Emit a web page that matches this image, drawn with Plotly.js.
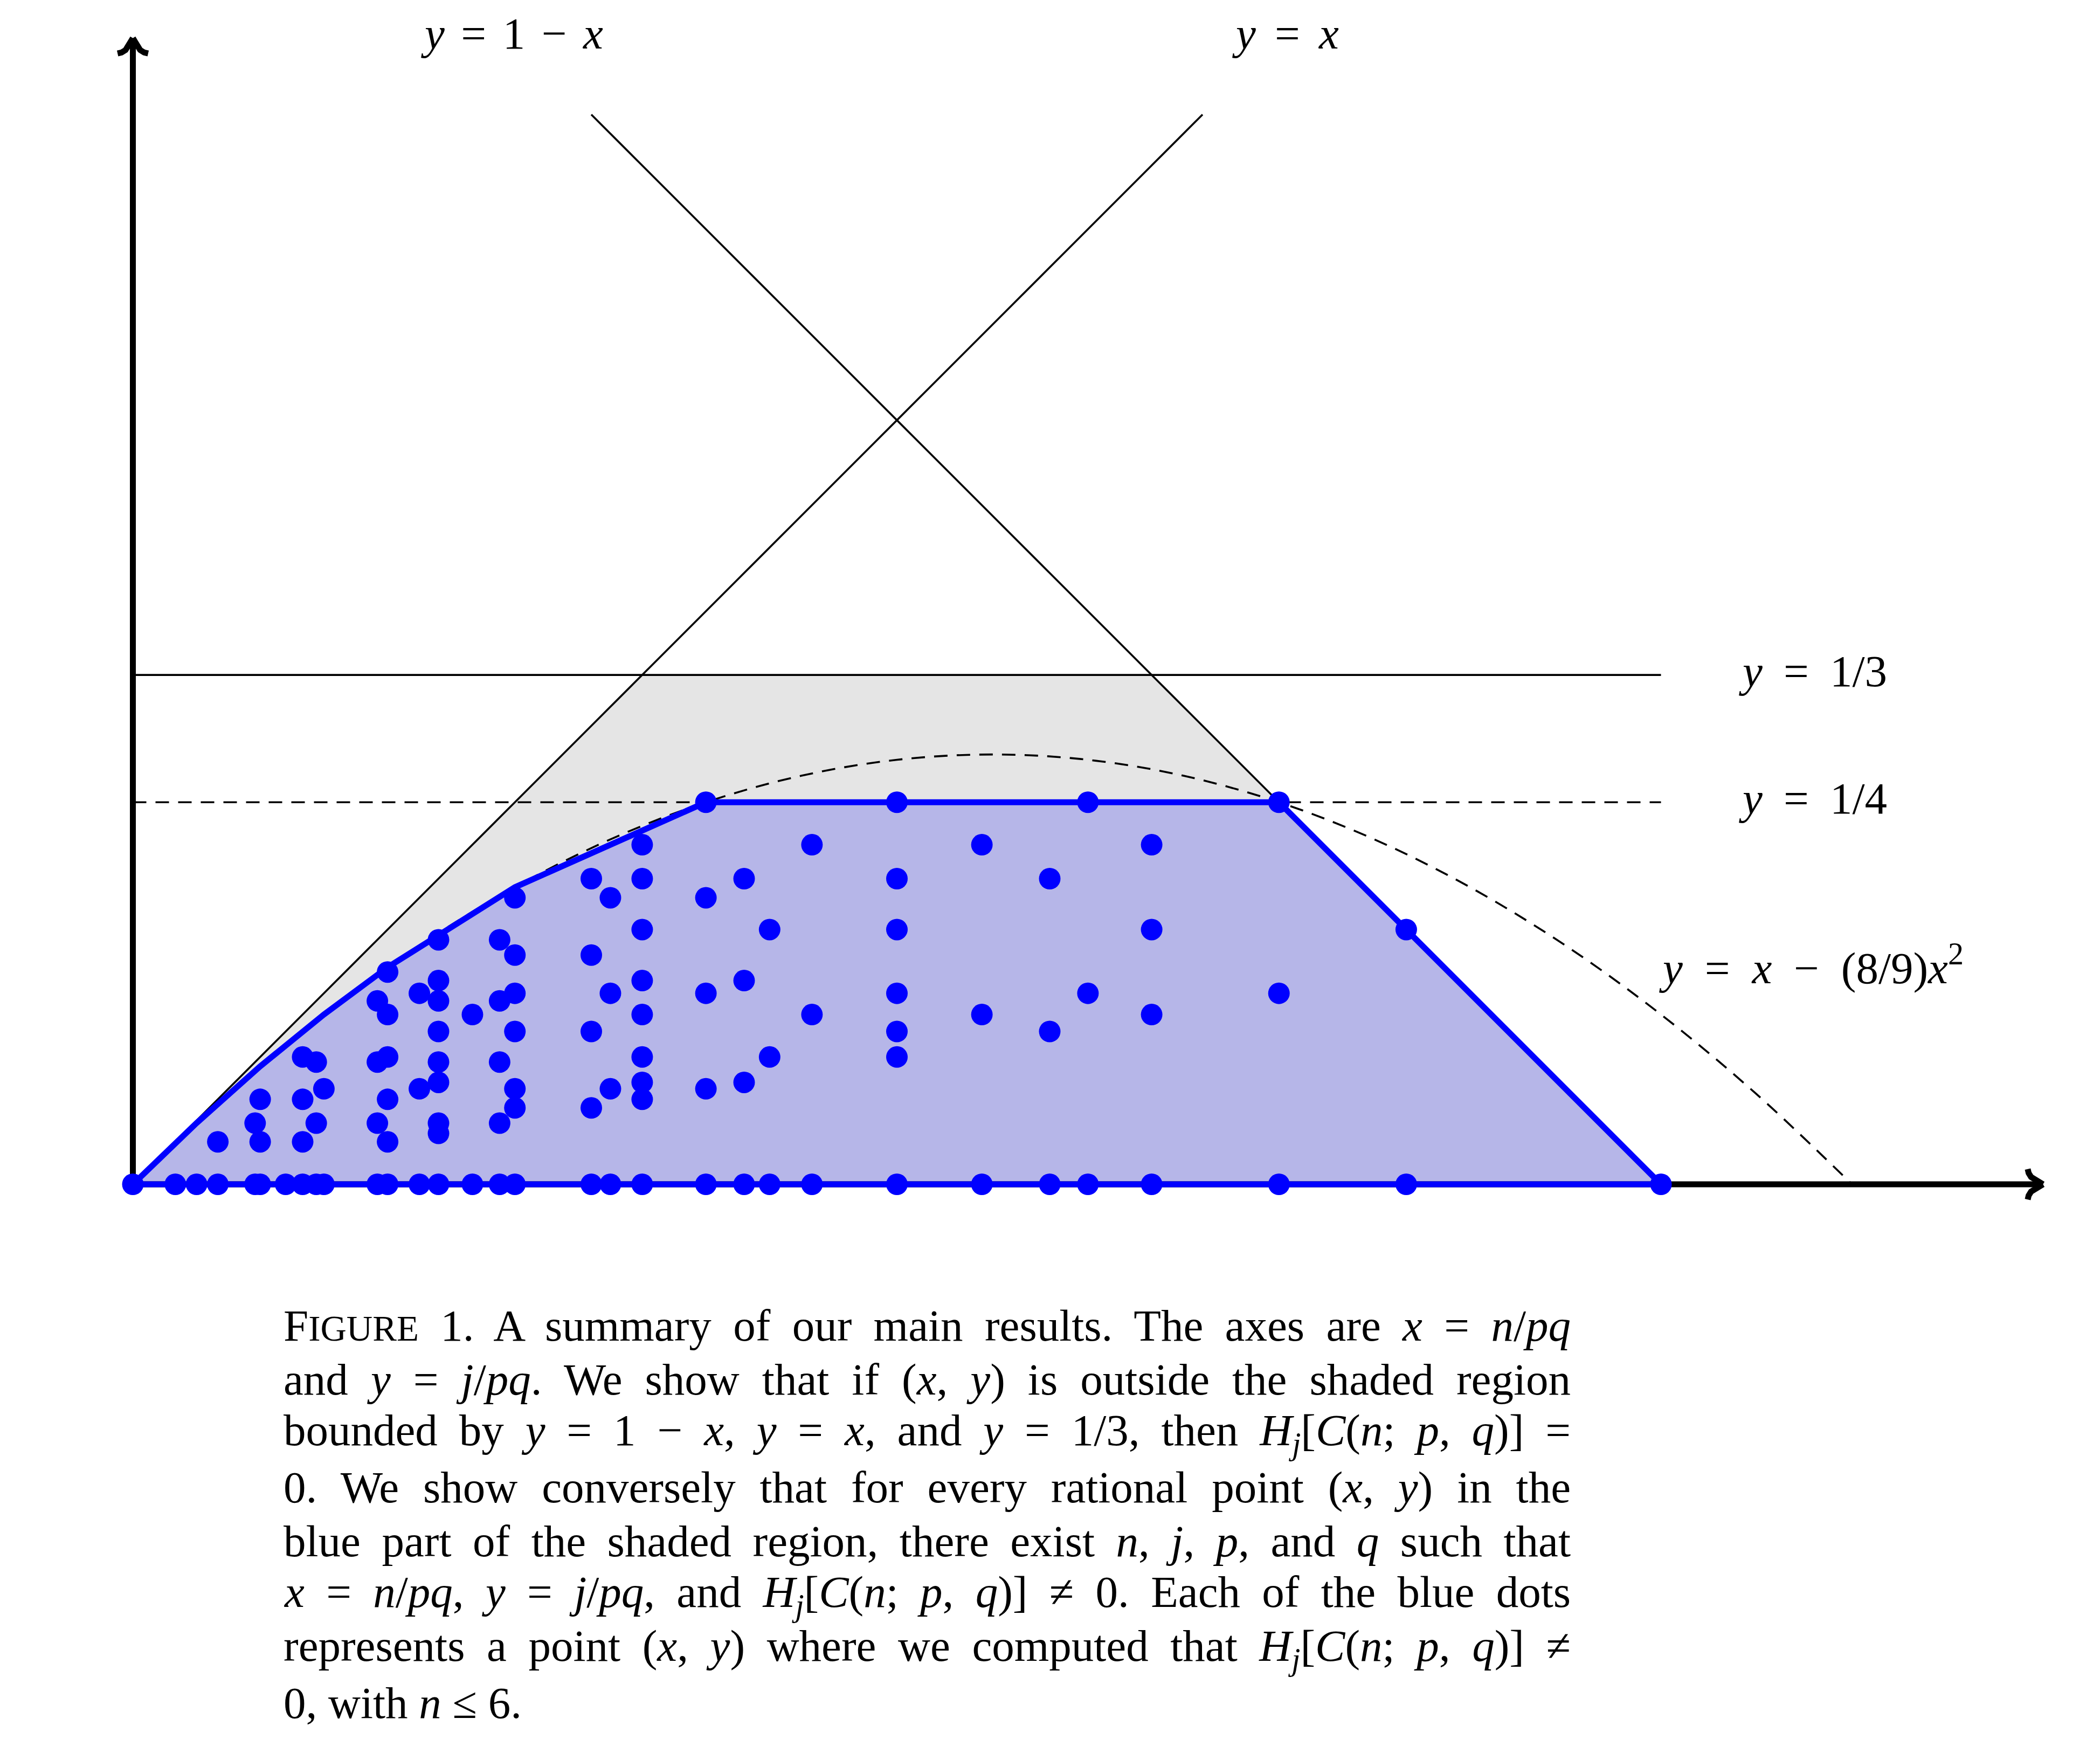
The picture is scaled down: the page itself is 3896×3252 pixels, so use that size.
<!DOCTYPE html>
<html><head><meta charset="utf-8">
<script src="https://cdn.plot.ly/plotly-3.0.1.min.js"></script>
<style>html,body{margin:0;padding:0;background:#fff}</style>
</head><body>
<div id="chart" style="width:3896px;height:3252px"></div>
<script>
// ---------- data ----------
const dotX = [
  0,0.0278,0.0417,0.0556,0.08,0.0833,0.1,0.1111,0.12,0.125,0.16,0.1667,0.1875,0.2,0.2222,0.24,
  0.25,0.3,0.3125,0.3333,0.375,0.4,0.4167,0.4444,0.5,0.5556,0.6,0.625,0.6667,0.75,0.8333,1,
  0.0556,
  0.08,
  0.0833,0.0833,
  0.1111,0.1111,0.1111,
  0.12,0.12,
  0.125,
  0.16,0.16,0.16,
  0.1667,0.1667,0.1667,0.1667,0.1667,
  0.1875,0.1875,
  0.2,0.2,0.2,0.2,0.2,0.2,0.2,0.2,
  0.2222,
  0.24,0.24,0.24,0.24,
  0.25,0.25,0.25,0.25,0.25,0.25,
  0.3,0.3,0.3,0.3,
  0.3125,0.3125,0.3125,
  0.3333,0.3333,0.3333,0.3333,0.3333,0.3333,0.3333,0.3333,
  0.375,0.375,0.375,0.375,
  0.4,0.4,0.4,
  0.4167,0.4167,
  0.4444,0.4444,
  0.5,0.5,0.5,0.5,0.5,0.5,
  0.5556,0.5556,
  0.6,0.6,
  0.625,0.625,
  0.6667,0.6667,0.6667,
  0.75,0.75,
  0.8333
];
const dotY = [
  0,0,0,0,0,0,0,0,0,0,0,0,0,0,0,0,
  0,0,0,0,0,0,0,0,0,0,0,0,0,0,0,0,
  0.0278,
  0.04,
  0.0556,0.0278,
  0.0833,0.0556,0.0278,
  0.08,0.04,
  0.0625,
  0.12,0.08,0.04,
  0.1389,0.1111,0.0833,0.0556,0.0278,
  0.125,0.0625,
  0.16,0.1333,0.12,0.1,0.08,0.0667,0.04,0.0333,
  0.1111,
  0.16,0.12,0.08,0.04,
  0.1875,0.15,0.125,0.1,0.0625,0.05,
  0.2,0.15,0.1,0.05,
  0.1875,0.125,0.0625,
  0.2222,0.2,0.1667,0.1333,0.1111,0.0833,0.0667,0.0556,
  0.25,0.1875,0.125,0.0625,
  0.2,0.1333,0.0667,
  0.1667,0.0833,
  0.2222,0.1111,
  0.25,0.2,0.1667,0.125,0.1,0.0833,
  0.2222,0.1111,
  0.2,0.1,
  0.25,0.125,
  0.2222,0.1667,0.1111,
  0.25,0.125,
  0.1667
];
// blue region boundary
const regionX = [0, 0.0417, 0.0833, 0.125, 0.1667, 0.25, 0.375, 0.75, 1, 0];
const regionY = [0, 0.0401, 0.0772, 0.1111, 0.1420, 0.1944, 0.25, 0.25, 0, 0];
// gray region bounded by y=x, y=1/3, y=1-x
const grayX = [0, 0.3333, 0.6667, 1, 0];
const grayY = [0, 0.3333, 0.3333, 0, 0];
// reference lines
const diagX = [0, 0.7], diagY = [0, 0.7];
const antiX = [0.3, 0.75], antiY = [0.7, 0.25];
const thirdX = [0, 1], thirdY = [0.3333, 0.3333];
const quarterX = [0, 1], quarterY = [0.25, 0.25];
// dashed curve y = x - (8/9)x^2
const parabX = [0,0.0625,0.125,0.1875,0.25,0.3125,0.375,0.4375,0.5,0.5625,0.625,0.6875,0.75,0.8125,0.875,0.9375,1,1.0625,1.125];
const parabY = [0,0.059028,0.111111,0.15625,0.194444,0.225694,0.25,0.267361,0.277778,0.28125,0.277778,0.267361,0.25,0.225694,0.194444,0.15625,0.111111,0.059028,0];
// axes
const xAxisX = [0, 1.25], xAxisY = [0, 0];
const yAxisX = [0, 0], yAxisY = [0, 0.75];
const barbA = [0, 0.0046, 0.0078, 0.0094, 0.0100]; // offset back from the tip
const barbB = [0, 0.0022, 0.0048, 0.0074, 0.0100]; // sideways offset

// labels
const lineLabels = ['<i>y</i> = 1 − <i>x</i>', '<i>y</i> = <i>x</i>', '<i>y</i> = 1/3', '<i>y</i> = 1/4', '<i>y</i> = <i>x</i> − (8/9)<i>x</i><sup>2</sup>'];
const captionLines = [
  'F<span style="font-size:67px">IGURE</span> 1. A summary of our main results. The axes are <i>x</i> = <i>n</i>/<i>pq</i>',
  'and <i>y</i> = <i>j</i>/<i>pq</i>. We show that if (<i>x</i>, <i>y</i>) is outside the shaded region',
  'bounded by <i>y</i> = 1 − <i>x</i>, <i>y</i> = <i>x</i>, and <i>y</i> = 1/3, then <i>H<sub>j</sub></i>[<i>C</i>(<i>n</i>; <i>p</i>, <i>q</i>)] =',
  '0. We show conversely that for every rational point (<i>x</i>, <i>y</i>) in the',
  'blue part of the shaded region, there exist <i>n</i>, <i>j</i>, <i>p</i>, and <i>q</i> such that',
  '<i>x</i> = <i>n</i>/<i>pq</i>, <i>y</i> = <i>j</i>/<i>pq</i>, and <i>H<sub>j</sub></i>[<i>C</i>(<i>n</i>; <i>p</i>, <i>q</i>)] ≠ 0. Each of the blue dots',
  'represents a point (<i>x</i>, <i>y</i>) where we computed that <i>H<sub>j</sub></i>[<i>C</i>(<i>n</i>; <i>p</i>, <i>q</i>)] ≠',
  '0, with <i>n</i> ≤ 6.'
];
const captionJustify = [true,true,true,true,true,true,true,false];

// ---------- layout geometry (pixels of the 3896x3252 page) ----------
const W = 3896, H = 3252;
const ox = 246.5, oy = 2197, unit = 2835;
const FONT = 'Liberation Serif, Times New Roman, serif';
const FS = 83;
const px2x = p => (p - ox) / unit;
const px2y = p => (oy - p) / unit;

const thin = {color:'black', width:3.6};
const traces = [
  {x:grayX, y:grayY, mode:'lines', fill:'toself', fillcolor:'#e5e5e5', line:{width:0}},
  {x:regionX, y:regionY, mode:'lines', fill:'toself', fillcolor:'rgb(182,182,232)', line:{width:0}},
  {x:diagX, y:diagY, mode:'lines', line:thin},
  {x:antiX, y:antiY, mode:'lines', line:thin},
  {x:thirdX, y:thirdY, mode:'lines', line:thin},
  {x:quarterX, y:quarterY, mode:'lines', line:{color:'black', width:3.6, dash:'25px,17px'}},
  {x:parabX, y:parabY, mode:'lines', line:{color:'black', width:3.6, dash:'25px,17px', shape:'spline'}},
  {x:xAxisX, y:xAxisY, mode:'lines', line:{color:'black', width:11}},
  {x:yAxisX, y:yAxisY, mode:'lines', line:{color:'black', width:11}},
  {x:barbA.map(a=>xAxisX[1]-a), y:barbB.map(b=>b), mode:'lines', line:{color:'black', width:11}},
  {x:barbA.map(a=>xAxisX[1]-a), y:barbB.map(b=>-b), mode:'lines', line:{color:'black', width:11}},
  {x:barbB.map(b=>b), y:barbA.map(a=>yAxisY[1]-a), mode:'lines', line:{color:'black', width:11}},
  {x:barbB.map(b=>-b), y:barbA.map(a=>yAxisY[1]-a), mode:'lines', line:{color:'black', width:11}},
  {x:regionX, y:regionY, mode:'lines', line:{color:'#0000ff', width:11}},
  {x:dotX, y:dotY, mode:'markers', marker:{color:'#0000ff', size:40, line:{width:0}}}
];

const annotations = [];
const targets = [];
const capLeftPx = 524, capWidth = 2388;
captionLines.forEach((t, i) => {
  const baseline = 2487 + 100 * i;
  annotations.push({xref:'x', yref:'y', x:px2x(capLeftPx), y:px2y(baseline - 28), xanchor:'left', yanchor:'middle',
    text:t, showarrow:false, font:{family:FONT, size:FS, color:'black'}});
  targets.push(captionJustify[i] ? capWidth : null);
});
const labelPos = [
  {x:px2x(950), y:px2y(62), xa:'center', w:338},
  {x:px2x(2385), y:px2y(62), xa:'center', w:198},
  {x:px2x(3224), y:px2y(1245), xa:'left', w:275},
  {x:px2x(3224), y:px2y(1481), xa:'left', w:275},
  {x:px2x(3076), y:px2y(1789), xa:'left', w:565}
];
lineLabels.forEach((t, i) => {
  annotations.push({xref:'x', yref:'y', x:labelPos[i].x, y:labelPos[i].y, xanchor:labelPos[i].xa, yanchor:'middle',
    text:t, showarrow:false, font:{family:FONT, size:FS, color:'black'}});
  targets.push(labelPos[i].w);
});

const layout = {
  width:W, height:H, margin:{l:0,r:0,t:0,b:0,pad:0},
  paper_bgcolor:'white', plot_bgcolor:'white', showlegend:false,
  xaxis:{range:[px2x(0), px2x(W)], visible:false, fixedrange:true},
  yaxis:{range:[px2y(H), px2y(0)], visible:false, fixedrange:true},
  annotations:annotations
};

const gd = document.getElementById('chart');
Plotly.newPlot(gd, traces, layout, {staticPlot:true, displayModeBar:false}).then(function(){
  const upd = {};
  annotations.forEach((a, i) => {
    if (!targets[i]) return;
    const el = gd.querySelector('g.annotation[data-index="' + i + '"] text');
    if (!el) return;
    const w = el.getBBox().width;
    const plain = a.text.replace(/<[^>]+>/g, '');
    const spaces = (plain.match(/ /g) || []).length;
    if (!spaces) return;
    const extra = Math.max(0, (targets[i] - w) / spaces);
    upd['annotations[' + i + '].text'] = '<span style="font-size:' + FS + 'px;word-spacing:' + extra.toFixed(2) + 'px">' + a.text + '</span>';
  });
  return Plotly.relayout(gd, upd);
});
</script>
</body></html>
